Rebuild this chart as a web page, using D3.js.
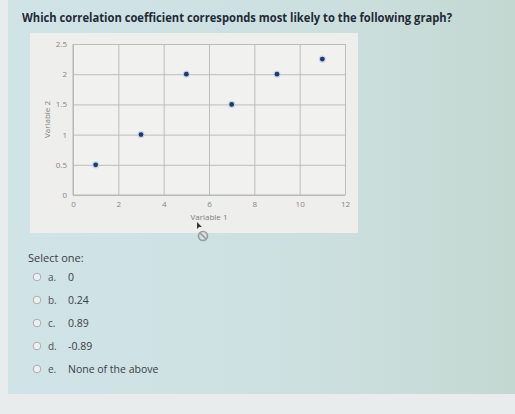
<!DOCTYPE html>
<html>
<head>
<meta charset="utf-8">
<script src="https://cdn.jsdelivr.net/npm/d3@7"></script>
<style>
  html, body { margin: 0; padding: 0; background: #eaeded; }
  svg { display: block; font-family: "Open Sans", sans-serif; }
</style>
</head>
<body>
<svg id="page" width="515" height="414"></svg>
<script>
// question data
var title = "Which correlation coefficient corresponds most likely to the following graph?";
var xVals = [1, 3, 5, 7, 9, 11];
var yVals = [0.5, 1, 2, 1.5, 2, 2.25];
var xTicks = [0, 2, 4, 6, 8, 10, 12];
var yTicks = [0, 0.5, 1, 1.5, 2, 2.5];
var optLetters = ["a.", "b.", "c.", "d.", "e."];
var optTexts = ["0", "0.24", "0.89", "-0.89", "None of the above"];

var svg = d3.select("#page");

// background panel
var defs = svg.append("defs");
var grad = defs.append("linearGradient").attr("id", "panelGrad")
	.attr("x1", "0%").attr("x2", "100%").attr("y1", "0%").attr("y2", "0%");
grad.append("stop").attr("offset", "0%").attr("stop-color", "#d0e3e7");
grad.append("stop").attr("offset", "60%").attr("stop-color", "#cde0e0");
grad.append("stop").attr("offset", "100%").attr("stop-color", "#c3d8d1");

svg.append("rect").attr("x", 0).attr("y", 0).attr("width", 515).attr("height", 414).attr("fill", "#e8ecec");
svg.append("rect").attr("x", 8).attr("y", 0).attr("width", 507).attr("height", 394).attr("fill", "url(#panelGrad)");

svg.append("text")
	.attr("x", 22).attr("y", 22)
	.attr("font-size", 12.5).attr("font-weight", "bold")
	.attr("fill", "#1e2a36")
	.attr("textLength", 430).attr("lengthAdjust", "spacingAndGlyphs")
	.text(title);

// chart card
svg.append("rect").attr("x", 30).attr("y", 33).attr("width", 328).attr("height", 200).attr("fill", "#eeeeec");

var margin = {top: 44, left: 73, right: 345, bottom: 195};
var x = d3.scaleLinear().domain([0, 12]).range([margin.left, margin.right]);
var y = d3.scaleLinear().domain([0, 2.5]).range([margin.bottom, margin.top]);

svg.append("rect")
	.attr("x", margin.left).attr("y", margin.top)
	.attr("width", margin.right - margin.left).attr("height", margin.bottom - margin.top)
	.attr("fill", "#f1f1ef");

// grid + ticks
var fmt = function (d) { return String(d); };
var xAxis = d3.axisBottom(x).tickValues(xTicks).tickFormat(fmt).tickSizeInner(-(margin.bottom - margin.top)).tickSizeOuter(0).tickPadding(6);
var gx = svg.append("g").attr("transform", "translate(0," + margin.bottom + ")").call(xAxis);
var yAxis = d3.axisLeft(y).tickValues(yTicks).tickFormat(fmt).tickSizeInner(-(margin.right - margin.left)).tickSizeOuter(0).tickPadding(6);
var gy = svg.append("g").attr("transform", "translate(" + margin.left + ",0)").call(yAxis);

[gx, gy].forEach(function (g) {
	g.select(".domain").remove();
	g.selectAll(".tick line").attr("stroke", "#bdbdbb").attr("stroke-width", 1);
	g.selectAll(".tick text").attr("fill", "#858585").attr("font-size", 8).attr("font-family", "Open Sans, sans-serif");
});
// axes lines
svg.append("line").attr("x1", margin.left).attr("x2", margin.left).attr("y1", margin.top).attr("y2", margin.bottom).attr("stroke", "#b5b5b3");
svg.append("line").attr("x1", margin.left).attr("x2", margin.right).attr("y1", margin.bottom).attr("y2", margin.bottom).attr("stroke", "#b5b5b3");

// axis titles
svg.append("text")
	.attr("x", (margin.left + margin.right) / 2).attr("y", 220)
	.attr("text-anchor", "middle").attr("font-size", 8).attr("fill", "#7d7d7d")
	.text("Variable 1");
svg.append("text")
	.attr("transform", "translate(50," + ((margin.top + margin.bottom) / 2) + ") rotate(-90)")
	.attr("text-anchor", "middle").attr("font-size", 8).attr("fill", "#7d7d7d")
	.text("Variable 2");

// points
var pts = xVals.map(function (v, i) { return {x: v, y: yVals[i]}; });
svg.selectAll("circle.halo").data(pts).enter().append("circle")
	.attr("class", "halo")
	.attr("cx", function (d) { return x(d.x); })
	.attr("cy", function (d) { return y(d.y); })
	.attr("r", 3.6).attr("fill", "#c9d6ea");
svg.selectAll("circle.dot").data(pts).enter().append("circle")
	.attr("class", "dot")
	.attr("cx", function (d) { return x(d.x); })
	.attr("cy", function (d) { return y(d.y); })
	.attr("r", 2.4).attr("fill", "#213b66");

// cursor under x title
var cur = svg.append("g").attr("transform", "translate(197,222)");
cur.append("path").attr("d", "M0,0 L0,7 L2,5 L5,5 Z").attr("fill", "#333");
cur.append("circle").attr("cx", 6).attr("cy", 14).attr("r", 4.5).attr("fill", "none").attr("stroke", "#9a9a9a").attr("stroke-width", 1.6);
cur.append("line").attr("x1", 3).attr("y1", 11).attr("x2", 9).attr("y2", 17).attr("stroke", "#9a9a9a").attr("stroke-width", 1.6);

// options
svg.append("text").attr("x", 28).attr("y", 262).attr("font-size", 11).attr("fill", "#3a3f44").text("Select one:");
var opt = svg.selectAll("g.opt").data(optTexts).enter().append("g")
	.attr("class", "opt")
	.attr("transform", function (d, i) { return "translate(0," + (277 + i * 23) + ")"; });
opt.append("circle").attr("cx", 37).attr("cy", 0).attr("r", 3.8)
	.attr("fill", "#eef0f0").attr("stroke", "#a8adb0").attr("stroke-width", 1);
opt.append("text").attr("x", 48).attr("y", 4).attr("font-size", 10).attr("fill", "#4a5055")
	.text(function (d, i) { return optLetters[i]; });
opt.append("text").attr("x", 68).attr("y", 4).attr("font-size", 10.5).attr("fill", "#3a4045")
	.text(function (d) { return d; });
</script>
</body>
</html>
